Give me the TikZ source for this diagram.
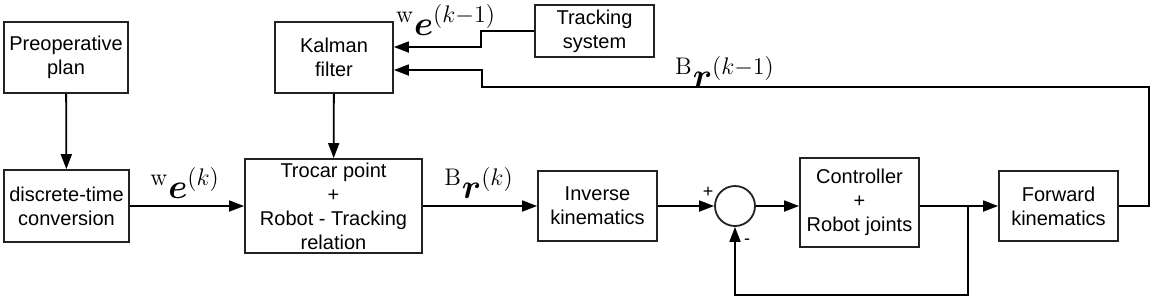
\documentclass[tikz,border=0pt]{standalone}
\usepackage{amsmath,amssymb,bm}
\usepackage{fontspec}
\setsansfont{Liberation Sans}
\usepackage{tikz}
\usetikzlibrary{arrows.meta,positioning}
\definecolor{nbox}{HTML}{222222}

\begin{document}
\begin{tikzpicture}[x=0.5pt, y=-0.5pt,
 block/.style={draw=nbox, line width=0.9pt, align=center, inner sep=0pt, font=\sffamily},
 arr/.style={-{Triangle[length=7.5pt,width=5.5pt]}, line width=0.9pt},
 sig/.style={font=\LARGE, inner sep=1pt}]
 \useasboundingbox (0,0) rectangle (1152,297);
 % top row
 \node[block, minimum width=62pt, minimum height=35.5pt] (pre) at (66,57.5) {Preoperative\\plan};
 \node[block, minimum width=59pt, minimum height=35.5pt] (kal) at (334,57.5) {Kalman\\filter};
 \node[block, minimum width=59.5pt, minimum height=26pt] (trk) at (594.5,31) {Tracking\\system};
 % main row
 \node[block, minimum width=62.5pt, minimum height=36pt] (disc) at (66.5,206) {discrete-time\\conversion};
 \node[block, minimum width=88.5pt, minimum height=47pt] (troc) at (333.5,206) {Trocar point\\+\\Robot - Tracking\\relation};
 \node[block, minimum width=59.5pt, minimum height=35pt] (ik) at (597.5,206) {Inverse\\kinematics};
 \node[draw=nbox, line width=0.9pt, circle, minimum size=20pt, inner sep=0pt] (sum) at (735,206) {};
 \node[block, minimum width=59.5pt, minimum height=44.5pt] (ctrl) at (859.5,202.5) {Controller\\+\\Robot joints};
 \node[block, minimum width=59.5pt, minimum height=35pt] (fk) at (1058.5,206) {Forward\\kinematics};
 \node[font=\sffamily\small] (plus) at (708,192) {+};
 \node[font=\sffamily\small] (minus) at (747,242) {-};
 % signals
 \node[sig] (we) at (185,183) {${}^{\mathrm{w}}\bm{e}^{(k)}$};
 \node[sig] (br) at (479,183) {${}^{\mathrm{B}}\bm{r}^{(k)}$};
 \node[sig] (we1) at (446,20) {${}^{\mathrm{w}}\bm{e}^{(k-1)}$};
 \node[sig] (br1) at (725,72) {${}^{\mathrm{B}}\bm{r}^{(k-1)}$};
 \coordinate (tap) at (968,206);
 \coordinate (fb) at (482,87);
 % connectors
 \draw[arr] (pre) -- (disc);
 \draw[arr] (kal) -- (troc);
 \draw[arr] (disc) -- (troc);
 \draw[arr] (troc) -- (ik);
 \draw[arr] (ik) -- (sum);
 \draw[arr] (sum.east) -- (sum.east -| ctrl.west);
 \draw[arr] (ctrl.east |- tap) -- (fk.west);
 \draw[arr] (tap) -- ++(0,89) -| (sum.south);
 \draw[arr] (trk.west) -- ++(-53,0) |- ([yshift=5.25pt]kal.east);
 \draw[arr] (fk.east) -- ++(30,0) |- (fb) |- ([yshift=-6.25pt]kal.east);
\end{tikzpicture}
\end{document}
